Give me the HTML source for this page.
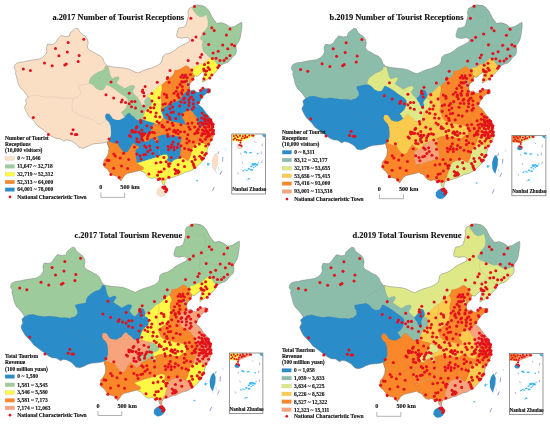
<!DOCTYPE html>
<html><head><meta charset="utf-8"><title>Tourism maps</title>
<style>
html,body{margin:0;padding:0;background:#fff}
body{width:550px;height:425px;overflow:hidden}
svg{display:block}
text{font-family:"Liberation Serif","Times New Roman",serif;font-weight:bold;fill:#111}
.t{font-size:8.25px}
.l{font-size:5.5px}
.n{font-size:5.1px}
.k{font-size:6.2px}
text{stroke:#111;stroke-width:.12px}
.pv{stroke:#8a8a86;stroke-opacity:.6;stroke-width:.22;stroke-linejoin:round}
</style></head><body>
<svg width="550" height="425" viewBox="0 0 550 425">
<rect width="550" height="425" fill="#fff"/>
<defs>
<clipPath id="cn"><path d="M14.5 65.5 L16.4 63.3 L20 62.2 L23.6 61.8 L27.3 60.9 L32.7 60 L39.1 59.1 L42.7 57.3 L45.5 54.5 L46.9 51.8 L46.4 47.3 L47.6 44 L52.7 44.5 L55.5 42.7 L58.5 38.2 L60.9 35.5 L65.5 36.7 L69.5 36 L70 33.1 L71.8 31.3 L74.2 29.5 L75.5 28.2 L78.2 28.7 L79.6 31.8 L82.2 34.2 L85.5 36.4 L87.3 39.1 L88.2 42.7 L87.3 47.3 L89.1 50 L92.7 51.8 L97.3 54.5 L100 55.5 L102.7 58.2 L104.5 62.7 L107.3 65.8 L112.7 66.9 L119.1 67.6 L125.5 68.2 L130 69.5 L134.5 71.8 L138.2 73.1 L142.7 70.9 L147.3 69.1 L152.7 67.6 L157.3 65.5 L160.9 63.3 L162.2 60 L162.7 56.4 L165.5 54.2 L170 53.1 L174.5 50.5 L178.2 47.3 L181.8 45.5 L185.5 43.6 L189.1 41.8 L190 39.1 L187.3 37.3 L181.8 38.2 L177.3 37.3 L176.5 35.5 L176.9 33.9 L177.8 30.3 L178.8 28 L182.4 27.5 L185.6 26.1 L186.6 22.9 L187.5 19.3 L188.4 15.6 L187.9 11.9 L189.3 8.3 L192.5 6.9 L194.4 5.5 L198 5 L203.5 6 L206.3 7.8 L209 11 L210.9 14.7 L212.7 18.3 L215 21.1 L216.4 23.3 L221.8 22.7 L226.4 24.5 L230 27.3 L234.5 26.4 L239.1 23.6 L241.8 22.2 L242 26.5 L241.2 32 L240.3 37.5 L239.4 40.5 L237.8 43 L236 45.5 L236.3 50 L236.3 52 L235.3 54.7 L232.5 57 L230.5 59.8 L228 62.3 L224.5 63.4 L221.5 64.8 L219.9 66.5 L218.1 69.2 L215.8 72 L213 74.7 L210.3 77 L207.5 79.3 L204.8 81.1 L202.5 82.3 L202.9 78.9 L203.7 75.6 L204 72.9 L202.9 71.5 L201.6 72.4 L199.3 74.7 L197 76.6 L194.7 75.6 L193.8 78.4 L192.4 81.1 L190.1 83.4 L189.2 85.7 L189.6 88.5 L189.2 91.2 L193.8 89.9 L196 91.7 L198.3 92.6 L201.1 90.3 L203.9 88.9 L207.5 88.5 L210.3 88.9 L210.6 92.3 L207 93 L203.6 95.8 L201.6 98.5 L199.8 101.7 L198.6 104.3 L199.5 105.6 L201.6 107 L203.9 109.8 L205.7 112.5 L208.5 115.7 L211.2 118.9 L212.5 121.8 L213.1 125.5 L214.4 127.5 L212 128.6 L213.2 130 L214.6 130.5 L214.4 133.8 L212.6 138.3 L210.8 142 L208.5 145.7 L207.1 149.4 L207.1 153 L205.3 156.7 L203.4 159.6 L200.7 162.8 L197.9 165.6 L195.6 167.9 L192.4 169.7 L188.8 171.6 L185 172.3 L182.7 173.5 L179 175.3 L175.4 176.3 L171.7 177.6 L168 178.6 L165.7 179.5 L164.8 181.8 L164.8 184.5 L163.4 185.2 L162.1 183.1 L161.6 180.4 L160.2 179.5 L157.5 179 L154.7 177.6 L152 178.6 L148.8 177.6 L146.8 175.6 L145.3 173.3 L143.3 171.9 L141.3 171.3 L140.3 170.3 L138.2 170.9 L134.5 171.8 L130.9 172.7 L127.3 173.6 L124.5 175.5 L122.7 178.2 L120.9 180.9 L119.1 179.1 L117.3 176.4 L113.6 175.5 L110.9 174.5 L109.1 171.8 L107.3 169.1 L104.5 167.3 L103.6 164.5 L103.9 160.3 L106.5 157.1 L108.4 153.3 L109 148.2 L107.7 144.4 L107.1 141.8 L103.9 142.8 L99.5 143.3 L94.4 143.7 L90.5 145 L86.7 146.9 L82.9 148.2 L79.1 147.5 L76.5 144.4 L74 142.5 L70.2 140.5 L66.4 139.9 L63.8 141.2 L60 138.6 L55.5 138.2 L51.8 136.4 L48.2 133.6 L44.5 130.9 L40.9 128.2 L37.3 125.5 L34.5 121.8 L31.8 119.1 L29.1 116.4 L27.3 113.6 L25.5 110 L24.5 107.3 L26.4 103.6 L25.5 100 L28.2 97.3 L26.4 94.5 L23.6 90.9 L20 87.3 L18.2 83.6 L17.3 80 L16.5 76.4 L15.5 73.6 L16 70.9 L14.2 68.2Z"/></clipPath>
<path id="pXJ" d="M5 20 L110 20 L110 70 L100 80 L100 92 L80 102 L20 102 L5 102Z"/>
<path id="pXZ" d="M20 99 L28.2 97.3 L31.8 95.5 L36.4 94.9 L41.8 96.4 L47.3 97.3 L52.7 96.7 L58.2 97.3 L63.6 98.2 L69.1 98.2 L73.6 98.8 L77 98 L82 99.5 L115 99.5 L115 150 L20 155Z"/>
<path id="pQH" d="M89.1 83.5 L85 84.2 L82 84.8 L78.9 85.5 L78.5 87 L79.5 89.3 L80.5 91 L80.8 94.4 L78.3 96.9 L77 98 L75.1 97.8 L72.5 100.7 L72 105 L72.5 110.5 L76.5 113.2 L80.4 115.7 L85.5 117.6 L90.5 118.9 L94.4 120.8 L96.9 123.4 L100.7 124 L103.9 122.1 L105.2 119.5 L106.4 119.7 L110 121.5 L114 123 L128 118 L130 100 L127 94 L120 89 L112 84 L107 82 L98 82 L92 80.5Z"/>
<path id="pNM" d="M100 0 L230 0 L230 50 L200 75 L180 90 L150 100 L141 100 L134 96.5 L128 93 L121 89.5 L115 85 L110 81 L108 69 L103 55Z"/>
<path id="pGS" d="M105 66.1 L108.2 66.4 L108.8 68.9 L109.5 72.1 L110.7 75.9 L112.6 78.5 L115.2 77.2 L118.4 76.5 L119.4 78.5 L117.7 81 L116.5 82.9 L119 84.8 L122.2 86.7 L124.7 88.6 L126.6 87.4 L129.8 85.7 L133 84.9 L134.9 86.4 L134 88.9 L132.4 91.1 L133.6 93.5 L136.1 95.9 L138.5 97.7 L141 99 L146.2 99 L147.7 96.9 L150 98 L153 100 L153 106 L150 108.5 L147.5 110.5 L146 113 L144.5 117 L143.5 119.5 L140 123 L126 121 L124.5 117.3 L122.4 114 L121 112.6 L123.8 110.3 L125.5 108.5 L127 105.5 L128 102 L127.5 99 L125 96.5 L121.5 94.2 L119 92.5 L116.5 90.5 L113.9 88.8 L110.7 86.8 L108.2 85.5 L106.3 84.8 L105 87.4 L103.1 89.9 L99.9 90.3 L96.1 88.6 L93.5 85.5 L90.4 83.5 L89.1 83.5 L89.3 80.4 L91 77.2 L94.2 74.6 L98 72.1 L101.8 70.8 L104.4 68.9Z"/>
<path id="pNX" d="M142.1 90.7 L144.5 89 L146.7 89.8 L148.1 93.5 L147.6 96.7 L145.4 99 L144.3 101.7 L145.2 104.5 L144.8 107.2 L143.5 107.4 L141.7 104.9 L140.3 101.7 L138.4 99 L137.5 97.6 L139.4 95.8 L141.2 93.5Z"/>
<path id="pSC" d="M108.7 141.7 L109.6 138.9 L111 135.3 L111 130.7 L110.6 126.1 L109.2 122.4 L106.4 119.7 L105 116.9 L106 113.7 L109.2 113.7 L111 116 L112.8 118.8 L116.5 120.1 L119.7 120.1 L122 118.8 L124.5 117.5 L125.7 115.6 L127.5 113.7 L129.4 112.8 L131.2 115.1 L133.9 116.9 L136.7 119.7 L139.4 120.6 L142.8 119.5 L160 118 L160 150 L125 156 L107 150 L107.1 141.8Z"/>
<path id="pYN" d="M107.1 141.8 L109 141 L110 141.8 L114.5 143.6 L117.3 142.7 L119.1 146.4 L121.8 150 L124.5 152.7 L127.6 151.8 L128.9 150 L130.9 146.2 L133.7 142.9 L136.4 145.5 L139.1 146.8 L138.7 148.6 L136.4 149.1 L135.6 150.5 L137.5 153 L140 160 L145 168 L143 185 L100 185 L104 146Z"/>
<path id="pSN" d="M161.1 84.2 L158.5 86.1 L156 88.6 L152.8 91.8 L149 94.4 L147.7 96.5 L150.5 98.3 L151.7 102 L151.2 105.8 L148.5 107.7 L146.2 109.6 L144.8 112.3 L143.4 116 L142.8 119.5 L146.9 121.1 L150.6 122.1 L154.3 123 L157 124.4 L159.3 122.5 L161.6 119.8 L163.4 117 L162.5 114.3 L161.1 111.5 L160.7 108.8 L161.6 105.1 L161.1 100.5 L160.7 95 L161.1 93.1 L162 89.3 L161.7 84.8Z"/>
<path id="pHL" d="M192.3 6.5 L192.5 9.2 L194.4 11.9 L197.1 15.1 L199.9 17 L203.5 16.5 L206.3 14.7 L207.2 17.4 L208.1 22 L207.7 26.6 L205.8 29.4 L203.5 31.7 L201.7 34.9 L200.3 37.6 L200.6 39.4 L203 40.8 L203.6 50 L245 50 L245 0 L192 0Z"/>
<path id="pJL" d="M203 40.8 L206.4 42.2 L209.1 43.3 L212.4 44.4 L216.2 46.1 L219.5 45.5 L222.2 47.1 L224.9 48.8 L227.6 50.4 L230.4 49.3 L233.1 48.2 L236.4 47.7 L240 49 L240 70 L210 70 L210.4 58 L208.3 56.6 L205.3 53.5 L203.2 51 L202.5 48.5 L202.2 45.5 L202.5 43Z"/>
<path id="pLN" d="M192.4 69.7 L192.8 66.9 L193.8 66.5 L195.6 66.5 L197.9 65.6 L200.2 64.2 L202.5 63.7 L204.3 62.3 L206.6 61 L208.4 59.1 L210.4 58 L213 59.1 L214.9 61 L216.2 63.3 L218.1 65.1 L219.9 66.5 L223 70 L205 86 L195 80 L192.8 73.3Z"/>
<path id="pSX" d="M161.7 84.8 L163.6 82.9 L166.8 80.4 L169.4 77.8 L171.9 75.9 L176 76 L176 106 L163 111 L160.9 109.5 L160.7 108.8 L161.6 105.1 L161.1 100.5 L160.7 95 L161.1 93.1 L162 89.3Z"/>
<path id="pHE" d="M171.9 75.9 L173.8 73.4 L174.5 70.2 L178.9 69.5 L182.7 67.6 L185.5 65.6 L187.8 66 L189.6 67.8 L191 69.2 L192.5 68.5 L192.4 69.7 L192.8 73.3 L194.7 75.6 L196 80 L192 92 L185 100 L175 104 L172.5 101.5 L172 99 L172.5 96 L173.5 92 L172.5 88 L173 84 L174.5 81 L173.5 78Z"/>
<path id="pBJ" d="M181.8 75.5 L183 74 L184.8 74.5 L185.3 76.5 L184 78 L182.3 77.5Z"/>
<path id="pTJ" d="M186 80.5 L187.5 79.5 L188.8 81 L188.8 84.5 L187.5 86.5 L186 85 L186.3 82.5Z"/>
<path id="pHA" d="M161.1 111.3 L160.9 109.5 L162.5 108.8 L165.3 106.9 L168.9 104.6 L172.6 103.3 L174.5 102 L178.3 100.7 L180.8 98.2 L187 101 L192 108 L190 127 L164 124 L163.4 117 L162.5 114.3Z"/>
<path id="pSD" d="M180.8 98.2 L182.7 95.6 L185.9 91.8 L189.3 89.5 L189 84 L216 84 L216 100 L198.6 104.3 L196 106.5 L193 108.3 L190 109 L187 108.6 L184.2 107.2 L182.6 104.2 L181.3 100.8Z"/>
<path id="pCQ" d="M153 125 L154.3 123 L157 124.4 L159.5 125.5 L161 127 L162.3 129.9 L159.8 131.8 L156.6 133.1 L155.8 135.5 L157 137 L158.4 138.8 L158.9 142 L156.6 143.3 L154.8 140.6 L152.9 137.8 L150.6 138.8 L148.3 141.1 L145.6 142 L143.3 140.6 L142.8 137.8 L144.7 135.1 L147.4 133.7 L149.7 131.9 L151.6 129.6 L152.5 126.8Z"/>
<path id="pGZ" d="M144.6 142.8 L146.5 142.3 L148.3 141.3 L150.6 139.5 L152.9 138.8 L154.8 141 L156.6 143.3 L157.4 144.5 L159.9 146.4 L159.3 150.2 L159.9 153.4 L160.3 155.7 L155.7 157.6 L151.1 158.9 L147.4 159.9 L143.8 161.2 L140.1 162.2 L137.2 163 L136.7 161.4 L135.9 157 L135.4 153.2 L135.7 150.5 L136.6 149.3 L138.8 148.8 L140.2 147.7 L142.7 145.2Z"/>
<path id="pHB" d="M163.4 117 L165.7 119.3 L169.9 121.1 L173.5 121.6 L177.2 122.5 L180.9 123.4 L185 124.4 L186.5 124.8 L191 126 L191 135 L182 139 L157 140 L157 137 L155.8 135.5 L156.6 133.1 L159.8 131.8 L162.3 129.9 L161 127 L159.5 125.5 L157 124.4 L159.3 122.5 L161.6 119.8Z"/>
<path id="pHN" d="M157 137 L158.5 136.3 L161.7 135 L164.8 134.4 L168.7 135.6 L172.5 135 L176.3 136.3 L180.1 136.9 L182 136.5 L185 140 L185 163 L160 163 L160.3 155.7 L159.9 153.4 L159.3 150.2 L159.9 146.4 L157.4 144.5 L156.6 143.3 L158.9 142 L158.4 138.8Z"/>
<path id="pGX" d="M140.5 172 L141.2 170.6 L143.4 169.6 L143.7 167.3 L141 165.8 L138.9 164.5 L137.2 163 L140.1 162.2 L143.8 161.2 L147.4 159.9 L151.1 158.9 L155.7 157.6 L160.3 155.7 L163.9 154.4 L167.2 154.8 L168.1 157.6 L166.9 159.9 L168.5 161.5 L170.4 161.8 L171.5 162.5 L175 165 L172 183 L140 183Z"/>
<path id="pAH" d="M186.9 111.1 L183.3 112.5 L182.3 115.3 L181.9 118 L184.2 120.8 L185.1 123.9 L186.5 124.8 L187.7 125.6 L188.9 129.5 L188.3 133.9 L188.3 137 L200 141 L205 128 L199 112 L190 110Z"/>
<path id="pJS" d="M189 109.6 L190 109 L193 108.3 L196 106.5 L198.6 104.3 L201 103 L220 120 L217 131 L202.3 131 L202.3 127.8 L199.8 126.9 L198.2 124.8 L197 122.6 L197.5 120 L197 117.1 L194.7 115.3 L193.3 112.5 L191 110.7Z"/>
<path id="pJX" d="M182 136.5 L183.9 135 L186.5 133.1 L188.3 133.9 L190.8 136.5 L194.7 137.7 L197.8 138.4 L198.5 142 L196.5 147 L193 160 L188.5 162 L184 160 L181.5 157.3 L180 155.5 L180.5 150 L181 148 L180 144 L181 140Z"/>
<path id="pGD" d="M165.7 179.5 L165.9 177.7 L167.8 174.5 L168.5 171.4 L169.8 168.2 L171 165 L171.5 162.5 L174 160 L177.7 158.7 L180 158.5 L181.5 157.3 L183.3 158 L185.5 159.5 L187.8 160.8 L188.5 160.3 L195 160 L201 172 L170 191 L161 191 L161 180.5 L162.5 180Z"/>
<path id="pZJ" d="M197.8 138.4 L199.1 135.2 L201 132 L202.3 128.2 L201.3 126.5 L206.5 125 L210.5 124.3 L219 124 L219 149 L208 149 L196.1 147 L196.1 144.3 L196.5 141.5Z"/>
<path id="pSH" d="M210.8 121.8 L216 121.5 L216 127 L212.5 126.6 L210.6 124.5Z"/>
<path id="pFJ" d="M196.1 144.3 L199.8 142.5 L203.4 143.4 L206.7 144.8 L208 146.1 L213 147 L213 171 L197.5 173 L196.5 168.2 L194.6 164.6 L192.7 162.3 L190.5 160.5 L188.5 160.3 L189.7 158.3 L191.1 154.6 L192 150.3 L192.9 147.5Z"/>
<path id="pHI" d="M157 190 L159 187.6 L161.5 186.5 L164.5 186.4 L167 187.5 L168.2 189.5 L167.6 192 L165.8 194.3 L163.5 196 L160.8 196.6 L158.3 195.5 L156.6 193.2Z"/>
<path id="pTW" d="M216.3 153.2 L218.1 157.3 L217.9 161 L217.7 163.8 L216.3 168.3 L215.4 171.6 L214 169.7 L212.6 166.5 L212.2 161 L213.5 156.4 L215 154Z"/>
<path id="ol" d="M14.5 65.5 L16.4 63.3 L20 62.2 L23.6 61.8 L27.3 60.9 L32.7 60 L39.1 59.1 L42.7 57.3 L45.5 54.5 L46.9 51.8 L46.4 47.3 L47.6 44 L52.7 44.5 L55.5 42.7 L58.5 38.2 L60.9 35.5 L65.5 36.7 L69.5 36 L70 33.1 L71.8 31.3 L74.2 29.5 L75.5 28.2 L78.2 28.7 L79.6 31.8 L82.2 34.2 L85.5 36.4 L87.3 39.1 L88.2 42.7 L87.3 47.3 L89.1 50 L92.7 51.8 L97.3 54.5 L100 55.5 L102.7 58.2 L104.5 62.7 L107.3 65.8 L112.7 66.9 L119.1 67.6 L125.5 68.2 L130 69.5 L134.5 71.8 L138.2 73.1 L142.7 70.9 L147.3 69.1 L152.7 67.6 L157.3 65.5 L160.9 63.3 L162.2 60 L162.7 56.4 L165.5 54.2 L170 53.1 L174.5 50.5 L178.2 47.3 L181.8 45.5 L185.5 43.6 L189.1 41.8 L190 39.1 L187.3 37.3 L181.8 38.2 L177.3 37.3 L176.5 35.5 L176.9 33.9 L177.8 30.3 L178.8 28 L182.4 27.5 L185.6 26.1 L186.6 22.9 L187.5 19.3 L188.4 15.6 L187.9 11.9 L189.3 8.3 L192.5 6.9 L194.4 5.5 L198 5 L203.5 6 L206.3 7.8 L209 11 L210.9 14.7 L212.7 18.3 L215 21.1 L216.4 23.3 L221.8 22.7 L226.4 24.5 L230 27.3 L234.5 26.4 L239.1 23.6 L241.8 22.2 L242 26.5 L241.2 32 L240.3 37.5 L239.4 40.5 L237.8 43 L236 45.5 L236.3 50 L236.3 52 L235.3 54.7 L232.5 57 L230.5 59.8 L228 62.3 L224.5 63.4 L221.5 64.8 L219.9 66.5 L218.1 69.2 L215.8 72 L213 74.7 L210.3 77 L207.5 79.3 L204.8 81.1 L202.5 82.3 L202.9 78.9 L203.7 75.6 L204 72.9 L202.9 71.5 L201.6 72.4 L199.3 74.7 L197 76.6 L194.7 75.6 L193.8 78.4 L192.4 81.1 L190.1 83.4 L189.2 85.7 L189.6 88.5 L189.2 91.2 L193.8 89.9 L196 91.7 L198.3 92.6 L201.1 90.3 L203.9 88.9 L207.5 88.5 L210.3 88.9 L210.6 92.3 L207 93 L203.6 95.8 L201.6 98.5 L199.8 101.7 L198.6 104.3 L199.5 105.6 L201.6 107 L203.9 109.8 L205.7 112.5 L208.5 115.7 L211.2 118.9 L212.5 121.8 L213.1 125.5 L214.4 127.5 L212 128.6 L213.2 130 L214.6 130.5 L214.4 133.8 L212.6 138.3 L210.8 142 L208.5 145.7 L207.1 149.4 L207.1 153 L205.3 156.7 L203.4 159.6 L200.7 162.8 L197.9 165.6 L195.6 167.9 L192.4 169.7 L188.8 171.6 L185 172.3 L182.7 173.5 L179 175.3 L175.4 176.3 L171.7 177.6 L168 178.6 L165.7 179.5 L164.8 181.8 L164.8 184.5 L163.4 185.2 L162.1 183.1 L161.6 180.4 L160.2 179.5 L157.5 179 L154.7 177.6 L152 178.6 L148.8 177.6 L146.8 175.6 L145.3 173.3 L143.3 171.9 L141.3 171.3 L140.3 170.3 L138.2 170.9 L134.5 171.8 L130.9 172.7 L127.3 173.6 L124.5 175.5 L122.7 178.2 L120.9 180.9 L119.1 179.1 L117.3 176.4 L113.6 175.5 L110.9 174.5 L109.1 171.8 L107.3 169.1 L104.5 167.3 L103.6 164.5 L103.9 160.3 L106.5 157.1 L108.4 153.3 L109 148.2 L107.7 144.4 L107.1 141.8 L103.9 142.8 L99.5 143.3 L94.4 143.7 L90.5 145 L86.7 146.9 L82.9 148.2 L79.1 147.5 L76.5 144.4 L74 142.5 L70.2 140.5 L66.4 139.9 L63.8 141.2 L60 138.6 L55.5 138.2 L51.8 136.4 L48.2 133.6 L44.5 130.9 L40.9 128.2 L37.3 125.5 L34.5 121.8 L31.8 119.1 L29.1 116.4 L27.3 113.6 L25.5 110 L24.5 107.3 L26.4 103.6 L25.5 100 L28.2 97.3 L26.4 94.5 L23.6 90.9 L20 87.3 L18.2 83.6 L17.3 80 L16.5 76.4 L15.5 73.6 L16 70.9 L14.2 68.2Z" fill="none" stroke="#777" stroke-width=".45" stroke-linejoin="round"/>
<g id="dots" fill="#e3111b">
<circle cx="83.8" cy="39.3" r="1.5"/><circle cx="68.2" cy="42.5" r="1.5"/><circle cx="55.5" cy="48.4" r="1.5"/><circle cx="67.3" cy="52.0" r="1.5"/><circle cx="79.1" cy="55.5" r="1.5"/><circle cx="58.9" cy="55.8" r="1.5"/><circle cx="78.2" cy="61.5" r="1.5"/><circle cx="44.5" cy="63.1" r="1.5"/>
<circle cx="52.2" cy="65.8" r="1.5"/><circle cx="64.8" cy="65.0" r="1.5"/><circle cx="66.3" cy="64.0" r="1.5"/><circle cx="23.3" cy="68.9" r="1.5"/><circle cx="30.4" cy="70.5" r="1.5"/><circle cx="33.3" cy="117.5" r="1.5"/><circle cx="48.4" cy="134.5" r="1.5"/><circle cx="73.1" cy="129.7" r="1.5"/>
<circle cx="71.5" cy="133.8" r="1.5"/><circle cx="75.3" cy="134.6" r="1.5"/><circle cx="76.8" cy="134.6" r="1.5"/><circle cx="111.0" cy="81.9" r="1.5"/><circle cx="106.0" cy="94.7" r="1.5"/><circle cx="113.7" cy="97.9" r="1.5"/><circle cx="122.2" cy="100.1" r="1.5"/><circle cx="121.3" cy="102.0" r="1.5"/>
<circle cx="125.6" cy="102.6" r="1.5"/><circle cx="129.2" cy="93.3" r="1.5"/><circle cx="129.2" cy="103.7" r="1.5"/><circle cx="131.7" cy="101.4" r="1.5"/><circle cx="134.9" cy="101.4" r="1.5"/><circle cx="131.5" cy="106.8" r="1.5"/><circle cx="135.5" cy="108.1" r="1.5"/><circle cx="194.5" cy="6.4" r="1.5"/>
<circle cx="190.9" cy="18.2" r="1.5"/><circle cx="211.8" cy="27.8" r="1.5"/><circle cx="214.2" cy="30.5" r="1.5"/><circle cx="230.0" cy="29.1" r="1.5"/><circle cx="226.4" cy="35.1" r="1.5"/><circle cx="204.0" cy="33.8" r="1.5"/><circle cx="196.0" cy="37.1" r="1.5"/><circle cx="192.4" cy="40.2" r="1.5"/>
<circle cx="208.7" cy="44.5" r="1.5"/><circle cx="222.7" cy="44.9" r="1.5"/><circle cx="231.8" cy="44.5" r="1.5"/><circle cx="234.5" cy="45.8" r="1.5"/><circle cx="227.8" cy="48.7" r="1.5"/><circle cx="218.2" cy="51.3" r="1.5"/><circle cx="213.1" cy="53.1" r="1.5"/><circle cx="201.8" cy="54.5" r="1.5"/>
<circle cx="200.4" cy="57.3" r="1.5"/><circle cx="230.0" cy="55.5" r="1.5"/><circle cx="226.4" cy="58.2" r="1.5"/><circle cx="224.0" cy="60.4" r="1.5"/><circle cx="220.0" cy="60.4" r="1.5"/><circle cx="216.0" cy="58.2" r="1.5"/><circle cx="212.4" cy="58.5" r="1.5"/><circle cx="188.2" cy="60.5" r="1.5"/>
<circle cx="197.3" cy="63.3" r="1.5"/><circle cx="204.5" cy="64.5" r="1.5"/><circle cx="208.2" cy="62.7" r="1.5"/><circle cx="219.1" cy="65.5" r="1.5"/><circle cx="217.8" cy="67.6" r="1.5"/><circle cx="203.6" cy="69.1" r="1.5"/><circle cx="208.2" cy="67.6" r="1.5"/><circle cx="209.5" cy="69.5" r="1.5"/>
<circle cx="205.5" cy="70.9" r="1.5"/><circle cx="170.0" cy="70.5" r="1.5"/><circle cx="191.8" cy="70.0" r="1.5"/><circle cx="205.5" cy="74.5" r="1.5"/><circle cx="211.8" cy="74.9" r="1.5"/><circle cx="185.5" cy="74.9" r="1.5"/><circle cx="190.5" cy="74.5" r="1.5"/><circle cx="157.3" cy="82.2" r="1.5"/>
<circle cx="145.1" cy="86.4" r="1.5"/><circle cx="142.7" cy="90.0" r="1.5"/><circle cx="143.6" cy="92.7" r="1.5"/><circle cx="151.8" cy="93.6" r="1.5"/><circle cx="167.3" cy="78.5" r="1.5"/><circle cx="169.1" cy="82.2" r="1.5"/><circle cx="109.0" cy="139.0" r="1.5"/><circle cx="116.9" cy="142.1" r="1.5"/>
<circle cx="123.6" cy="153.3" r="1.5"/><circle cx="113.8" cy="153.9" r="1.5"/><circle cx="115.3" cy="156.1" r="1.5"/><circle cx="120.1" cy="158.1" r="1.5"/><circle cx="107.2" cy="160.2" r="1.5"/><circle cx="108.9" cy="160.6" r="1.5"/><circle cx="129.4" cy="135.5" r="1.5"/><circle cx="128.7" cy="159.5" r="1.5"/>
<circle cx="104.5" cy="164.5" r="1.5"/><circle cx="113.6" cy="168.2" r="1.5"/><circle cx="121.5" cy="166.0" r="1.5"/><circle cx="127.6" cy="168.5" r="1.5"/><circle cx="110.9" cy="174.5" r="1.5"/><circle cx="119.1" cy="177.6" r="1.5"/><circle cx="134.5" cy="147.0" r="1.5"/><circle cx="167.6" cy="77.4" r="1.5"/>
<circle cx="142.5" cy="91.7" r="1.5"/><circle cx="144.2" cy="96.0" r="1.5"/><circle cx="159.0" cy="97.8" r="1.5"/><circle cx="164.2" cy="93.9" r="1.5"/><circle cx="166.5" cy="95.1" r="1.5"/><circle cx="166.8" cy="97.2" r="1.5"/><circle cx="174.0" cy="93.2" r="1.5"/><circle cx="176.3" cy="91.2" r="1.5"/>
<circle cx="177.4" cy="87.5" r="1.5"/><circle cx="178.1" cy="94.1" r="1.5"/><circle cx="180.0" cy="84.6" r="1.5"/><circle cx="182.2" cy="86.6" r="1.5"/><circle cx="182.7" cy="90.0" r="1.5"/><circle cx="182.0" cy="94.1" r="1.5"/><circle cx="178.9" cy="97.6" r="1.5"/><circle cx="182.7" cy="82.0" r="1.5"/>
<circle cx="184.5" cy="81.8" r="1.5"/><circle cx="180.9" cy="77.0" r="1.5"/><circle cx="183.6" cy="77.4" r="1.5"/><circle cx="184.4" cy="98.1" r="1.5"/><circle cx="204.3" cy="70.6" r="1.5"/><circle cx="206.6" cy="71.1" r="1.5"/><circle cx="204.0" cy="79.0" r="1.5"/><circle cx="209.8" cy="78.1" r="1.5"/>
<circle cx="186.4" cy="81.1" r="1.5"/><circle cx="188.1" cy="84.4" r="1.5"/><circle cx="192.8" cy="79.3" r="1.5"/><circle cx="188.7" cy="90.3" r="1.5"/><circle cx="193.8" cy="92.2" r="1.5"/><circle cx="192.4" cy="92.8" r="1.5"/><circle cx="200.6" cy="90.3" r="1.5"/><circle cx="202.9" cy="88.2" r="1.5"/>
<circle cx="208.9" cy="89.9" r="1.5"/><circle cx="208.4" cy="91.7" r="1.5"/><circle cx="181.4" cy="92.6" r="1.5"/><circle cx="187.8" cy="93.1" r="1.5"/><circle cx="187.8" cy="94.2" r="1.5"/><circle cx="201.0" cy="95.6" r="1.5"/><circle cx="201.6" cy="96.9" r="1.5"/><circle cx="191.5" cy="96.9" r="1.5"/>
<circle cx="190.1" cy="97.8" r="1.5"/><circle cx="188.8" cy="99.7" r="1.5"/><circle cx="193.3" cy="99.7" r="1.5"/><circle cx="181.0" cy="102.0" r="1.5"/><circle cx="184.6" cy="102.4" r="1.5"/><circle cx="189.2" cy="102.4" r="1.5"/><circle cx="198.4" cy="102.4" r="1.5"/><circle cx="193.3" cy="103.8" r="1.5"/>
<circle cx="188.8" cy="105.6" r="1.5"/><circle cx="179.6" cy="106.1" r="1.5"/><circle cx="193.8" cy="107.0" r="1.5"/><circle cx="192.4" cy="108.9" r="1.5"/><circle cx="187.4" cy="109.8" r="1.5"/><circle cx="179.1" cy="113.9" r="1.5"/><circle cx="182.8" cy="114.8" r="1.5"/><circle cx="175.9" cy="118.5" r="1.5"/>
<circle cx="202.1" cy="113.0" r="1.5"/><circle cx="204.4" cy="115.3" r="1.5"/><circle cx="206.7" cy="116.2" r="1.5"/><circle cx="201.6" cy="118.0" r="1.5"/><circle cx="204.4" cy="118.5" r="1.5"/><circle cx="207.6" cy="119.4" r="1.5"/><circle cx="210.8" cy="119.9" r="1.5"/><circle cx="197.5" cy="119.4" r="1.5"/>
<circle cx="205.3" cy="121.2" r="1.5"/><circle cx="208.5" cy="121.7" r="1.5"/><circle cx="211.2" cy="122.2" r="1.5"/><circle cx="200.7" cy="122.6" r="1.5"/><circle cx="203.4" cy="123.1" r="1.5"/><circle cx="198.4" cy="123.5" r="1.5"/><circle cx="187.8" cy="123.5" r="1.5"/><circle cx="192.0" cy="123.1" r="1.5"/>
<circle cx="152.0" cy="101.0" r="1.5"/><circle cx="143.7" cy="106.0" r="1.5"/><circle cx="154.7" cy="104.6" r="1.5"/><circle cx="150.6" cy="107.8" r="1.5"/><circle cx="153.8" cy="107.8" r="1.5"/><circle cx="147.8" cy="110.6" r="1.5"/><circle cx="150.6" cy="112.0" r="1.5"/><circle cx="141.9" cy="111.5" r="1.5"/>
<circle cx="156.1" cy="112.9" r="1.5"/><circle cx="155.6" cy="116.6" r="1.5"/><circle cx="159.8" cy="117.0" r="1.5"/><circle cx="144.6" cy="117.9" r="1.5"/><circle cx="140.5" cy="120.2" r="1.5"/><circle cx="141.0" cy="122.5" r="1.5"/><circle cx="157.0" cy="121.6" r="1.5"/><circle cx="159.0" cy="123.0" r="1.5"/>
<circle cx="136.8" cy="126.7" r="1.5"/><circle cx="146.9" cy="125.7" r="1.5"/><circle cx="151.5" cy="127.6" r="1.5"/><circle cx="141.9" cy="129.9" r="1.5"/><circle cx="162.1" cy="125.3" r="1.5"/><circle cx="163.9" cy="127.1" r="1.5"/><circle cx="135.9" cy="131.7" r="1.5"/><circle cx="165.3" cy="103.7" r="1.5"/>
<circle cx="163.0" cy="104.6" r="1.5"/><circle cx="171.2" cy="102.3" r="1.5"/><circle cx="169.9" cy="104.2" r="1.5"/><circle cx="174.4" cy="100.5" r="1.5"/><circle cx="172.6" cy="106.9" r="1.5"/><circle cx="169.9" cy="108.8" r="1.5"/><circle cx="171.2" cy="112.4" r="1.5"/><circle cx="173.5" cy="112.0" r="1.5"/>
<circle cx="163.0" cy="110.1" r="1.5"/><circle cx="167.1" cy="114.7" r="1.5"/><circle cx="169.4" cy="117.0" r="1.5"/><circle cx="169.9" cy="118.9" r="1.5"/><circle cx="172.2" cy="123.0" r="1.5"/><circle cx="173.1" cy="125.3" r="1.5"/><circle cx="167.6" cy="122.1" r="1.5"/><circle cx="180.9" cy="124.8" r="1.5"/>
<circle cx="166.7" cy="129.9" r="1.5"/><circle cx="169.4" cy="128.9" r="1.5"/><circle cx="174.4" cy="130.3" r="1.5"/><circle cx="177.7" cy="130.3" r="1.5"/><circle cx="180.4" cy="131.7" r="1.5"/><circle cx="152.4" cy="132.2" r="1.5"/><circle cx="149.7" cy="132.6" r="1.5"/><circle cx="139.1" cy="132.2" r="1.5"/>
<circle cx="142.3" cy="133.5" r="1.5"/><circle cx="184.5" cy="131.7" r="1.5"/><circle cx="183.6" cy="99.1" r="1.5"/><circle cx="177.7" cy="95.5" r="1.5"/><circle cx="188.8" cy="126.9" r="1.5"/><circle cx="190.1" cy="129.2" r="1.5"/><circle cx="194.7" cy="126.9" r="1.5"/><circle cx="199.8" cy="126.4" r="1.5"/>
<circle cx="202.5" cy="124.6" r="1.5"/><circle cx="204.4" cy="126.9" r="1.5"/><circle cx="210.3" cy="123.2" r="1.5"/><circle cx="211.7" cy="124.1" r="1.5"/><circle cx="208.9" cy="125.5" r="1.5"/><circle cx="207.1" cy="124.1" r="1.5"/><circle cx="205.3" cy="123.7" r="1.5"/><circle cx="175.5" cy="131.5" r="1.5"/>
<circle cx="178.2" cy="133.8" r="1.5"/><circle cx="187.8" cy="134.7" r="1.5"/><circle cx="194.7" cy="133.8" r="1.5"/><circle cx="197.0" cy="131.0" r="1.5"/><circle cx="196.6" cy="132.8" r="1.5"/><circle cx="198.4" cy="129.2" r="1.5"/><circle cx="202.5" cy="130.1" r="1.5"/><circle cx="204.4" cy="131.0" r="1.5"/>
<circle cx="202.1" cy="133.8" r="1.5"/><circle cx="201.6" cy="135.6" r="1.5"/><circle cx="205.3" cy="133.8" r="1.5"/><circle cx="207.1" cy="131.9" r="1.5"/><circle cx="208.5" cy="133.8" r="1.5"/><circle cx="209.9" cy="130.1" r="1.5"/><circle cx="211.7" cy="129.2" r="1.5"/><circle cx="212.6" cy="131.9" r="1.5"/>
<circle cx="213.5" cy="133.8" r="1.5"/><circle cx="209.4" cy="136.1" r="1.5"/><circle cx="206.7" cy="137.0" r="1.5"/><circle cx="186.9" cy="138.8" r="1.5"/><circle cx="189.2" cy="141.1" r="1.5"/><circle cx="186.9" cy="142.9" r="1.5"/><circle cx="193.3" cy="142.0" r="1.5"/><circle cx="199.3" cy="143.9" r="1.5"/>
<circle cx="200.2" cy="139.7" r="1.5"/><circle cx="202.1" cy="141.6" r="1.5"/><circle cx="205.3" cy="139.3" r="1.5"/><circle cx="211.2" cy="139.7" r="1.5"/><circle cx="208.5" cy="144.3" r="1.5"/><circle cx="205.7" cy="146.1" r="1.5"/><circle cx="178.2" cy="143.9" r="1.5"/><circle cx="181.0" cy="145.7" r="1.5"/>
<circle cx="177.3" cy="147.5" r="1.5"/><circle cx="184.6" cy="148.4" r="1.5"/><circle cx="188.8" cy="149.4" r="1.5"/><circle cx="191.1" cy="150.3" r="1.5"/><circle cx="195.2" cy="146.6" r="1.5"/><circle cx="202.1" cy="152.6" r="1.5"/><circle cx="206.2" cy="153.5" r="1.5"/><circle cx="204.8" cy="154.9" r="1.5"/>
<circle cx="199.8" cy="156.2" r="1.5"/><circle cx="194.3" cy="156.7" r="1.5"/><circle cx="201.6" cy="158.1" r="1.5"/><circle cx="180.0" cy="157.2" r="1.5"/><circle cx="131.8" cy="130.5" r="1.5"/><circle cx="134.6" cy="131.9" r="1.5"/><circle cx="141.0" cy="134.2" r="1.5"/><circle cx="144.7" cy="133.7" r="1.5"/>
<circle cx="130.5" cy="136.5" r="1.5"/><circle cx="136.9" cy="138.8" r="1.5"/><circle cx="139.2" cy="142.0" r="1.5"/><circle cx="136.9" cy="141.5" r="1.5"/><circle cx="141.9" cy="139.2" r="1.5"/><circle cx="148.8" cy="134.2" r="1.5"/><circle cx="147.4" cy="138.8" r="1.5"/><circle cx="154.8" cy="138.3" r="1.5"/>
<circle cx="157.1" cy="141.5" r="1.5"/><circle cx="154.3" cy="132.8" r="1.5"/><circle cx="144.7" cy="146.1" r="1.5"/><circle cx="146.1" cy="147.5" r="1.5"/><circle cx="149.7" cy="146.1" r="1.5"/><circle cx="150.2" cy="149.8" r="1.5"/><circle cx="147.9" cy="151.6" r="1.5"/><circle cx="152.9" cy="153.4" r="1.5"/>
<circle cx="157.5" cy="147.5" r="1.5"/><circle cx="136.9" cy="153.9" r="1.5"/><circle cx="140.1" cy="155.7" r="1.5"/><circle cx="143.8" cy="154.8" r="1.5"/><circle cx="145.6" cy="154.4" r="1.5"/><circle cx="141.0" cy="158.9" r="1.5"/><circle cx="157.5" cy="156.2" r="1.5"/><circle cx="163.9" cy="157.6" r="1.5"/>
<circle cx="156.1" cy="163.1" r="1.5"/><circle cx="160.7" cy="162.2" r="1.5"/><circle cx="166.2" cy="161.7" r="1.5"/><circle cx="169.9" cy="163.5" r="1.5"/><circle cx="171.3" cy="157.6" r="1.5"/><circle cx="170.8" cy="147.5" r="1.5"/><circle cx="168.1" cy="146.6" r="1.5"/><circle cx="168.5" cy="149.8" r="1.5"/>
<circle cx="171.7" cy="144.7" r="1.5"/><circle cx="174.0" cy="147.0" r="1.5"/><circle cx="174.0" cy="149.8" r="1.5"/><circle cx="173.1" cy="142.0" r="1.5"/><circle cx="162.1" cy="126.8" r="1.5"/><circle cx="173.6" cy="131.4" r="1.5"/><circle cx="175.9" cy="132.8" r="1.5"/><circle cx="167.6" cy="134.2" r="1.5"/>
<circle cx="168.1" cy="136.5" r="1.5"/><circle cx="173.1" cy="136.0" r="1.5"/><circle cx="179.5" cy="137.8" r="1.5"/><circle cx="183.2" cy="160.7" r="1.5"/><circle cx="168.5" cy="163.9" r="1.5"/><circle cx="168.9" cy="166.2" r="1.5"/><circle cx="178.1" cy="164.8" r="1.5"/><circle cx="184.5" cy="166.6" r="1.5"/>
<circle cx="164.2" cy="168.9" r="1.5"/><circle cx="174.9" cy="169.4" r="1.5"/><circle cx="176.3" cy="170.8" r="1.5"/><circle cx="178.1" cy="170.8" r="1.5"/><circle cx="175.4" cy="173.5" r="1.5"/><circle cx="177.7" cy="173.1" r="1.5"/><circle cx="179.0" cy="172.1" r="1.5"/><circle cx="158.9" cy="172.1" r="1.5"/>
<circle cx="161.1" cy="171.7" r="1.5"/><circle cx="148.9" cy="174.0" r="1.5"/><circle cx="157.5" cy="175.3" r="1.5"/><circle cx="168.9" cy="177.2" r="1.5"/><circle cx="158.4" cy="179.5" r="1.5"/><circle cx="159.8" cy="178.8" r="1.5"/><circle cx="163.0" cy="179.0" r="1.5"/><circle cx="163.0" cy="187.3" r="1.5"/>
<circle cx="164.8" cy="186.8" r="1.5"/><circle cx="166.2" cy="188.7" r="1.5"/><circle cx="166.7" cy="190.0" r="1.5"/><circle cx="165.7" cy="191.4" r="1.5"/><circle cx="164.2" cy="188.2" r="1.5"/><circle cx="203.4" cy="158.3" r="1.5"/><circle cx="202.1" cy="159.2" r="1.5"/><circle cx="195.2" cy="159.6" r="1.5"/>
<circle cx="192.0" cy="161.5" r="1.5"/><circle cx="193.3" cy="163.8" r="1.5"/><circle cx="193.8" cy="165.6" r="1.5"/><circle cx="194.7" cy="167.4" r="1.5"/><circle cx="136.1" cy="127.9" r="1.5"/><circle cx="133.5" cy="130.9" r="1.5"/><circle cx="132.1" cy="132.3" r="1.5"/><circle cx="143.1" cy="135.3" r="1.5"/>
<circle cx="141.7" cy="137.1" r="1.5"/><circle cx="142.7" cy="140.3" r="1.5"/><circle cx="147.7" cy="136.2" r="1.5"/><circle cx="204.6" cy="119.6" r="1.5"/><circle cx="209.3" cy="119.2" r="1.5"/><circle cx="205.7" cy="127.6" r="1.5"/><circle cx="208.6" cy="126.9" r="1.5"/><circle cx="213.4" cy="130.2" r="1.5"/>
<circle cx="206.4" cy="130.2" r="1.5"/><circle cx="208.2" cy="132.0" r="1.5"/><circle cx="198.0" cy="132.7" r="1.5"/><circle cx="203.5" cy="133.5" r="1.5"/><circle cx="211.2" cy="134.2" r="1.5"/><circle cx="208.2" cy="135.7" r="1.5"/><circle cx="212.6" cy="125.8" r="1.5"/><circle cx="213.1" cy="124.3" r="1.5"/>
<circle cx="212.2" cy="127.2" r="1.5"/><circle cx="185.3" cy="76.5" r="1.5"/><circle cx="187.1" cy="77.7" r="1.5"/><circle cx="182.5" cy="75.1" r="1.5"/><circle cx="181.6" cy="81.7" r="1.5"/>
</g>
<g id="isl"><line x1="222.9" y1="157.2" x2="222.5" y2="161.2" stroke="#8d93d6" stroke-width=".9" stroke-linecap="round"/><line x1="221.6" y1="171.0" x2="220.2" y2="174.3" stroke="#8d93d6" stroke-width=".9" stroke-linecap="round"/><line x1="214.0" y1="187.4" x2="212.6" y2="190.8" stroke="#8d93d6" stroke-width=".9" stroke-linecap="round"/><line x1="218.6" y1="151.8" x2="218.0" y2="153.6" stroke="#8d93d6" stroke-width=".9" stroke-linecap="round"/><ellipse cx="208.0" cy="164.2" rx="1.00" ry="1.50" fill="#3fbaf0"/><ellipse cx="209.6" cy="163.6" rx="0.50" ry="0.60" fill="#3fbaf0"/><ellipse cx="225.3" cy="148.8" rx="0.45" ry="0.45" fill="#3fbaf0"/><ellipse cx="226.0" cy="150.0" rx="0.40" ry="0.40" fill="#3fbaf0"/><ellipse cx="197.0" cy="180.7" rx="1.00" ry="0.75" fill="#3fbaf0"/><ellipse cx="218.4" cy="168.0" rx="0.45" ry="0.45" fill="#3fbaf0"/><ellipse cx="219.0" cy="169.5" rx="0.40" ry="0.40" fill="#3fbaf0"/><ellipse cx="207.3" cy="152.5" rx="0.40" ry="0.40" fill="#3fbaf0"/><ellipse cx="216.2" cy="172.8" rx="0.40" ry="0.40" fill="#3fbaf0"/></g>
<g id="insc"><ellipse cx="13.4" cy="17.9" rx="1.49" ry="0.94" fill="#3fbaf0"/><ellipse cx="14.6" cy="18.8" rx="0.81" ry="0.68" fill="#3fbaf0"/><ellipse cx="18.8" cy="18.8" rx="1.62" ry="0.81" fill="#3fbaf0"/><ellipse cx="25.9" cy="19.7" rx="0.94" ry="0.68" fill="#3fbaf0"/><ellipse cx="21.5" cy="30.4" rx="1.76" ry="1.35" fill="#3fbaf0"/><ellipse cx="23.4" cy="29.6" rx="1.08" ry="0.81" fill="#3fbaf0"/><ellipse cx="25.0" cy="30.6" rx="1.49" ry="1.22" fill="#3fbaf0"/><ellipse cx="19.5" cy="32.4" rx="1.22" ry="0.81" fill="#3fbaf0"/><ellipse cx="17.0" cy="34.9" rx="1.35" ry="0.81" fill="#3fbaf0"/><ellipse cx="19.7" cy="35.8" rx="1.49" ry="0.94" fill="#3fbaf0"/><ellipse cx="15.0" cy="36.6" rx="1.08" ry="0.68" fill="#3fbaf0"/><ellipse cx="11.6" cy="36.9" rx="1.08" ry="0.68" fill="#3fbaf0"/><ellipse cx="13.4" cy="35.8" rx="0.81" ry="0.54" fill="#3fbaf0"/><ellipse cx="17.0" cy="44.7" rx="1.35" ry="0.81" fill="#3fbaf0"/><ellipse cx="21.8" cy="33.6" rx="0.94" ry="0.68" fill="#3fbaf0"/><ellipse cx="23.5" cy="32.3" rx="0.81" ry="0.68" fill="#3fbaf0"/><ellipse cx="26.8" cy="28.6" rx="0.68" ry="0.68" fill="#3fbaf0"/><line x1="30.4" y1="9.8" x2="30.2" y2="11.8" stroke="#8d93d6" stroke-width=".7" stroke-linecap="round"/><line x1="29.6" y1="17.8" x2="29.3" y2="19.8" stroke="#8d93d6" stroke-width=".7" stroke-linecap="round"/><line x1="30.3" y1="26.8" x2="30.0" y2="28.6" stroke="#8d93d6" stroke-width=".7" stroke-linecap="round"/><line x1="23.0" y1="7.6" x2="23.8" y2="8.4" stroke="#8d93d6" stroke-width=".7" stroke-linecap="round"/><line x1="8.8" y1="19.2" x2="9.2" y2="20.3" stroke="#8d93d6" stroke-width=".7" stroke-linecap="round"/><line x1="10.5" y1="28.0" x2="11.0" y2="29.2" stroke="#8d93d6" stroke-width=".7" stroke-linecap="round"/><line x1="6.1" y1="38.8" x2="6.6" y2="40.0" stroke="#8d93d6" stroke-width=".7" stroke-linecap="round"/><line x1="14.8" y1="45.2" x2="15.6" y2="46.0" stroke="#8d93d6" stroke-width=".7" stroke-linecap="round"/><path d="M29.8 .6 L33.2 .6 L33.2 3.4 L31.2 2.2Z" fill="#3aa0dc"/></g>
</defs>
<g transform="translate(83.8,39.3) scale(1.0) translate(-83.8,-39.3)">
<g clip-path="url(#cn)" class="pv">
<use href="#pXJ" fill="#fbdfc5"/><use href="#pXZ" fill="#fbdfc5"/><use href="#pQH" fill="#fbdfc5"/><use href="#pNM" fill="#fbdfc5"/><use href="#pGS" fill="#9ecb9c"/><use href="#pNX" fill="#fbdfc5"/><use href="#pSC" fill="#2a8cc9"/><use href="#pYN" fill="#fa8729"/><use href="#pSN" fill="#fdf845"/><use href="#pHL" fill="#9ecb9c"/><use href="#pJL" fill="#9ecb9c"/><use href="#pLN" fill="#fdf845"/><use href="#pSX" fill="#fa8729"/><use href="#pHE" fill="#fa8729"/><use href="#pBJ" fill="#9ecb9c"/><use href="#pTJ" fill="#9ecb9c"/><use href="#pHA" fill="#2a8cc9"/><use href="#pSD" fill="#2a8cc9"/><use href="#pCQ" fill="#fa8729"/><use href="#pGZ" fill="#2a8cc9"/><use href="#pHB" fill="#fa8729"/><use href="#pHN" fill="#2a8cc9"/><use href="#pGX" fill="#fdf845"/><use href="#pAH" fill="#fa8729"/><use href="#pJS" fill="#2a8cc9"/><use href="#pJX" fill="#fa8729"/><use href="#pGD" fill="#fdf845"/><use href="#pZJ" fill="#fa8729"/><use href="#pSH" fill="#fdf845"/><use href="#pFJ" fill="#fdf845"/>
</g>
<use href="#pHI" fill="#fbdfc5" class="pv"/><use href="#pTW" fill="#fbdfc5" class="pv"/>
<use href="#ol"/>
<use href="#isl"/>
<use href="#dots"/>
</g>
<text class="t" x="52.5" y="20.1" textLength="131.5" lengthAdjust="spacingAndGlyphs">a.2017 Number of Tourist Receptions</text>
<text class="l" x="5.1" y="140.0">Number of Tourist</text><text class="l" x="5.1" y="146.0">Receptions</text><text class="l" x="5.1" y="152.3">(10,000 visitors)</text>
<rect x="5.1" y="156.6" width="9.5" height="3.8" fill="#fbdfc5" stroke="#b9b9b9" stroke-width=".2"/><text class="l" x="17.3" y="160.3">0 ~ 11,646</text>
<rect x="5.1" y="164.5" width="9.5" height="3.8" fill="#9ecb9c" stroke="#b9b9b9" stroke-width=".2"/><text class="l" x="17.3" y="168.2">11,647 ~ 32,718</text>
<rect x="5.1" y="172.3" width="9.5" height="3.8" fill="#fdf845" stroke="#b9b9b9" stroke-width=".2"/><text class="l" x="17.3" y="176.0">32,719 ~ 52,312</text>
<rect x="5.1" y="180.1" width="9.5" height="3.8" fill="#fa8729" stroke="#b9b9b9" stroke-width=".2"/><text class="l" x="17.3" y="183.8">52,313 ~ 64,000</text>
<rect x="5.1" y="187.7" width="9.5" height="3.8" fill="#2a8cc9" stroke="#b9b9b9" stroke-width=".2"/><text class="l" x="17.3" y="191.4">64,001 ~ 78,000</text>
<circle cx="10.0" cy="196.9" r="1.35" fill="#e3111b"/><text class="l" x="17.3" y="198.7">National Characteristic Town</text>
<text class="k" x="100.9" y="189.4" text-anchor="middle">0</text><text class="k" x="120.3" y="189.4">500 km</text><path d="M100.9 192.7 V197.4 H124.7 V192.7" fill="none" stroke="#666" stroke-width=".5"/>
<g transform="translate(231.8,134.0)"><rect x="0" y="0" width="33.7" height="60.0" fill="#fff"/><path d="M.3 .3 L10 .3 L9.5 3 L8 5 L8.4 7.8 L6.2 7.4 L.3 6.9Z" fill="#fdf845"/><path d="M10 .3 L22.8 .3 L22.3 2.3 L18.6 3.8 L15 5.3 L11.3 6.7 L9.4 8.3 L8.9 10.6 L8 10.4 L8.4 7.8 L8 5 L9.5 3Z" fill="#fdf845"/><ellipse cx="7.9" cy="12.8" rx="2.6" ry="2.1" fill="#fbdfc5" stroke="#999" stroke-width=".25"/><circle cx="2.0" cy="2.0" r="1" fill="#e3111b"/><circle cx="4.5" cy="1.5" r="1" fill="#e3111b"/><circle cx="3.2" cy="4.2" r="1" fill="#e3111b"/><circle cx="6.0" cy="3.0" r="1" fill="#e3111b"/><circle cx="1.8" cy="5.6" r="1" fill="#e3111b"/><circle cx="5.0" cy="5.8" r="1" fill="#e3111b"/><circle cx="8.2" cy="1.8" r="1" fill="#e3111b"/><circle cx="11.0" cy="2.2" r="1" fill="#e3111b"/><circle cx="13.5" cy="1.5" r="1" fill="#e3111b"/><circle cx="10.0" cy="4.6" r="1" fill="#e3111b"/><circle cx="12.5" cy="4.0" r="1" fill="#e3111b"/><circle cx="15.5" cy="3.0" r="1" fill="#e3111b"/><circle cx="17.5" cy="1.6" r="1" fill="#e3111b"/><circle cx="20.5" cy="1.4" r="1" fill="#e3111b"/><circle cx="21.8" cy="1.8" r="1" fill="#e3111b"/><circle cx="9.0" cy="6.6" r="1" fill="#e3111b"/><circle cx="8.7" cy="8.8" r="1" fill="#e3111b"/><circle cx="7.4" cy="10.9" r="1" fill="#e3111b"/><circle cx="9.0" cy="11.2" r="1" fill="#e3111b"/><circle cx="9.8" cy="12.2" r="1" fill="#e3111b"/><circle cx="14.0" cy="3.2" r="1" fill="#e3111b"/><circle cx="7.0" cy="6.2" r="1" fill="#e3111b"/><use href="#insc"/><rect x="0" y="0" width="33.7" height="60.0" fill="none" stroke="#555" stroke-width=".6"/></g>
<text class="n" x="249.2" y="191.1" text-anchor="middle">Nanhai Zhudao</text>
<g transform="translate(361.9,39.6) scale(1.0135) translate(-83.8,-39.3)">
<g clip-path="url(#cn)" class="pv">
<use href="#pXJ" fill="#8cbdab"/><use href="#pXZ" fill="#2a8cc9"/><use href="#pQH" fill="#2a8cc9"/><use href="#pNM" fill="#8cbdab"/><use href="#pGS" fill="#dee886"/><use href="#pNX" fill="#2a8cc9"/><use href="#pSC" fill="#fbcb4e"/><use href="#pYN" fill="#fa8729"/><use href="#pSN" fill="#fbcb4e"/><use href="#pHL" fill="#8cbdab"/><use href="#pJL" fill="#8cbdab"/><use href="#pLN" fill="#fbcb4e"/><use href="#pSX" fill="#fa8729"/><use href="#pHE" fill="#fa8729"/><use href="#pBJ" fill="#dee886"/><use href="#pTJ" fill="#8cbdab"/><use href="#pHA" fill="#fa8729"/><use href="#pSD" fill="#fa8729"/><use href="#pCQ" fill="#fbcb4e"/><use href="#pGZ" fill="#f7a37c"/><use href="#pHB" fill="#fbcb4e"/><use href="#pHN" fill="#fa8729"/><use href="#pGX" fill="#fa8729"/><use href="#pAH" fill="#fa8729"/><use href="#pJS" fill="#fa8729"/><use href="#pJX" fill="#fa8729"/><use href="#pGD" fill="#dee886"/><use href="#pZJ" fill="#fbcb4e"/><use href="#pSH" fill="#dee886"/><use href="#pFJ" fill="#dee886"/>
</g>
<use href="#pHI" fill="#2a8cc9" class="pv"/><use href="#pTW" fill="#2a8cc9" class="pv"/>
<use href="#ol"/>
<use href="#isl"/>
<use href="#dots"/>
</g>
<text class="t" x="329.5" y="20.1" textLength="134.0" lengthAdjust="spacingAndGlyphs">b.2019 Number of Tourist Receptions</text>
<text class="l" x="282.1" y="134.0">Number of Tourist</text><text class="l" x="282.1" y="140.0">Receptions</text><text class="l" x="282.1" y="146.0">(10,000 visitors)</text>
<rect x="282.1" y="150.3" width="9.5" height="3.8" fill="#2a8cc9" stroke="#b9b9b9" stroke-width=".2"/><text class="l" x="294.3" y="154.0">0 ~ 8,311</text>
<rect x="282.1" y="158.1" width="9.5" height="3.8" fill="#8cbdab" stroke="#b9b9b9" stroke-width=".2"/><text class="l" x="294.3" y="161.8">83,12 ~ 32,177</text>
<rect x="282.1" y="166.3" width="9.5" height="3.8" fill="#dee886" stroke="#b9b9b9" stroke-width=".2"/><text class="l" x="294.3" y="170.0">32,178 ~ 53,655</text>
<rect x="282.1" y="173.9" width="9.5" height="3.8" fill="#fbcb4e" stroke="#b9b9b9" stroke-width=".2"/><text class="l" x="294.3" y="177.6">53,656 ~ 75,415</text>
<rect x="282.1" y="181.7" width="9.5" height="3.8" fill="#fa8729" stroke="#b9b9b9" stroke-width=".2"/><text class="l" x="294.3" y="185.4">75,416 ~ 93,000</text>
<rect x="282.1" y="189.6" width="9.5" height="3.8" fill="#f7a37c" stroke="#b9b9b9" stroke-width=".2"/><text class="l" x="294.3" y="193.3">93,001 ~ 113,518</text>
<circle cx="287.0" cy="199.1" r="1.35" fill="#e3111b"/><text class="l" x="294.3" y="200.9">National Characteristic Town</text>
<text class="k" x="379.4" y="191.0" text-anchor="middle">0</text><text class="k" x="398.9" y="191.0">500 km</text><path d="M379.4 194.4 V198.7 H403.4 V194.4" fill="none" stroke="#666" stroke-width=".5"/>
<g transform="translate(511.9,135.3)"><rect x="0" y="0" width="34.0" height="60.5" fill="#fff"/><path d="M.3 .3 L10 .3 L9.5 3 L8 5 L8.4 7.8 L6.2 7.4 L.3 6.9Z" fill="#fa8729"/><path d="M10 .3 L22.8 .3 L22.3 2.3 L18.6 3.8 L15 5.3 L11.3 6.7 L9.4 8.3 L8.9 10.6 L8 10.4 L8.4 7.8 L8 5 L9.5 3Z" fill="#dee886"/><ellipse cx="7.9" cy="12.8" rx="2.6" ry="2.1" fill="#2a8cc9" stroke="#999" stroke-width=".25"/><circle cx="2.0" cy="2.0" r="1" fill="#e3111b"/><circle cx="4.5" cy="1.5" r="1" fill="#e3111b"/><circle cx="3.2" cy="4.2" r="1" fill="#e3111b"/><circle cx="6.0" cy="3.0" r="1" fill="#e3111b"/><circle cx="1.8" cy="5.6" r="1" fill="#e3111b"/><circle cx="5.0" cy="5.8" r="1" fill="#e3111b"/><circle cx="8.2" cy="1.8" r="1" fill="#e3111b"/><circle cx="11.0" cy="2.2" r="1" fill="#e3111b"/><circle cx="13.5" cy="1.5" r="1" fill="#e3111b"/><circle cx="10.0" cy="4.6" r="1" fill="#e3111b"/><circle cx="12.5" cy="4.0" r="1" fill="#e3111b"/><circle cx="15.5" cy="3.0" r="1" fill="#e3111b"/><circle cx="17.5" cy="1.6" r="1" fill="#e3111b"/><circle cx="20.5" cy="1.4" r="1" fill="#e3111b"/><circle cx="21.8" cy="1.8" r="1" fill="#e3111b"/><circle cx="9.0" cy="6.6" r="1" fill="#e3111b"/><circle cx="8.7" cy="8.8" r="1" fill="#e3111b"/><circle cx="7.4" cy="10.9" r="1" fill="#e3111b"/><circle cx="9.0" cy="11.2" r="1" fill="#e3111b"/><circle cx="9.8" cy="12.2" r="1" fill="#e3111b"/><circle cx="14.0" cy="3.2" r="1" fill="#e3111b"/><circle cx="7.0" cy="6.2" r="1" fill="#e3111b"/><use href="#insc"/><rect x="0" y="0" width="34.0" height="60.5" fill="none" stroke="#555" stroke-width=".6"/></g>
<text class="n" x="529.4" y="192.9" text-anchor="middle">Nanhai Zhudao</text>
<g transform="translate(80.55,258.3) scale(1.0055) translate(-83.8,-39.3)">
<g clip-path="url(#cn)" class="pv">
<use href="#pXJ" fill="#9ecb9c"/><use href="#pXZ" fill="#2a8cc9"/><use href="#pQH" fill="#2a8cc9"/><use href="#pNM" fill="#9ecb9c"/><use href="#pGS" fill="#2a8cc9"/><use href="#pNX" fill="#2a8cc9"/><use href="#pSC" fill="#f7a37c"/><use href="#pYN" fill="#fa8729"/><use href="#pSN" fill="#fdf845"/><use href="#pHL" fill="#9ecb9c"/><use href="#pJL" fill="#9ecb9c"/><use href="#pLN" fill="#fdf845"/><use href="#pSX" fill="#fdf845"/><use href="#pHE" fill="#fa8729"/><use href="#pBJ" fill="#fdf845"/><use href="#pTJ" fill="#9ecb9c"/><use href="#pHA" fill="#fa8729"/><use href="#pSD" fill="#f7a37c"/><use href="#pCQ" fill="#9ecb9c"/><use href="#pGZ" fill="#fa8729"/><use href="#pHB" fill="#fdf845"/><use href="#pHN" fill="#fa8729"/><use href="#pGX" fill="#fdf845"/><use href="#pAH" fill="#fa8729"/><use href="#pJS" fill="#f7a37c"/><use href="#pJX" fill="#fa8729"/><use href="#pGD" fill="#f7a37c"/><use href="#pZJ" fill="#f7a37c"/><use href="#pSH" fill="#fdf845"/><use href="#pFJ" fill="#fdf845"/>
</g>
<use href="#pHI" fill="#2a8cc9" class="pv"/><use href="#pTW" fill="#2a8cc9" class="pv"/>
<use href="#ol"/>
<use href="#isl"/>
<use href="#dots"/>
</g>
<text class="t" x="74.5" y="238.2" textLength="107.7" lengthAdjust="spacingAndGlyphs">c.2017 Total Tourism Revenue</text>
<text class="l" x="5.1" y="358.4">Total Tourism</text><text class="l" x="5.1" y="364.4">Revenue</text><text class="l" x="5.1" y="371.2">(100 million yuan)</text>
<rect x="5.1" y="374.7" width="9.5" height="3.8" fill="#2a8cc9" stroke="#b9b9b9" stroke-width=".2"/><text class="l" x="17.3" y="378.4">0 ~ 1,580</text>
<rect x="5.1" y="382.9" width="9.5" height="3.8" fill="#9ecb9c" stroke="#b9b9b9" stroke-width=".2"/><text class="l" x="17.3" y="386.6">1,581 ~ 3,545</text>
<rect x="5.1" y="390.6" width="9.5" height="3.8" fill="#fdf845" stroke="#b9b9b9" stroke-width=".2"/><text class="l" x="17.3" y="394.3">3,546 ~ 5,580</text>
<rect x="5.1" y="398.4" width="9.5" height="3.8" fill="#fa8729" stroke="#b9b9b9" stroke-width=".2"/><text class="l" x="17.3" y="402.1">5,581 ~ 7,173</text>
<rect x="5.1" y="406.0" width="9.5" height="3.8" fill="#f7a37c" stroke="#b9b9b9" stroke-width=".2"/><text class="l" x="17.3" y="409.7">7,174 ~ 12,063</text>
<circle cx="10.0" cy="415.2" r="1.35" fill="#e3111b"/><text class="l" x="17.3" y="417.0">National Characteristic Town</text>
<text class="k" x="98.0" y="407.7" text-anchor="middle">0</text><text class="k" x="117.4" y="407.7">500 km</text><path d="M98.0 411.1 V415.5 H121.8 V411.1" fill="none" stroke="#666" stroke-width=".5"/>
<g transform="translate(229.3,353.0)"><rect x="0" y="0" width="33.6" height="60.4" fill="#fff"/><path d="M.3 .3 L10 .3 L9.5 3 L8 5 L8.4 7.8 L6.2 7.4 L.3 6.9Z" fill="#fdf845"/><path d="M10 .3 L22.8 .3 L22.3 2.3 L18.6 3.8 L15 5.3 L11.3 6.7 L9.4 8.3 L8.9 10.6 L8 10.4 L8.4 7.8 L8 5 L9.5 3Z" fill="#f7a37c"/><ellipse cx="7.9" cy="12.8" rx="2.6" ry="2.1" fill="#2a8cc9" stroke="#999" stroke-width=".25"/><circle cx="2.0" cy="2.0" r="1" fill="#e3111b"/><circle cx="4.5" cy="1.5" r="1" fill="#e3111b"/><circle cx="3.2" cy="4.2" r="1" fill="#e3111b"/><circle cx="6.0" cy="3.0" r="1" fill="#e3111b"/><circle cx="1.8" cy="5.6" r="1" fill="#e3111b"/><circle cx="5.0" cy="5.8" r="1" fill="#e3111b"/><circle cx="8.2" cy="1.8" r="1" fill="#e3111b"/><circle cx="11.0" cy="2.2" r="1" fill="#e3111b"/><circle cx="13.5" cy="1.5" r="1" fill="#e3111b"/><circle cx="10.0" cy="4.6" r="1" fill="#e3111b"/><circle cx="12.5" cy="4.0" r="1" fill="#e3111b"/><circle cx="15.5" cy="3.0" r="1" fill="#e3111b"/><circle cx="17.5" cy="1.6" r="1" fill="#e3111b"/><circle cx="20.5" cy="1.4" r="1" fill="#e3111b"/><circle cx="21.8" cy="1.8" r="1" fill="#e3111b"/><circle cx="9.0" cy="6.6" r="1" fill="#e3111b"/><circle cx="8.7" cy="8.8" r="1" fill="#e3111b"/><circle cx="7.4" cy="10.9" r="1" fill="#e3111b"/><circle cx="9.0" cy="11.2" r="1" fill="#e3111b"/><circle cx="9.8" cy="12.2" r="1" fill="#e3111b"/><circle cx="14.0" cy="3.2" r="1" fill="#e3111b"/><circle cx="7.0" cy="6.2" r="1" fill="#e3111b"/><use href="#insc"/><rect x="0" y="0" width="33.6" height="60.4" fill="none" stroke="#555" stroke-width=".6"/></g>
<text class="n" x="246.6" y="410.9" text-anchor="middle">Nanhai Zhudao</text>
<g transform="translate(359.7,258.5) scale(1.0125) translate(-83.8,-39.3)">
<g clip-path="url(#cn)" class="pv">
<use href="#pXJ" fill="#8cbdab"/><use href="#pXZ" fill="#2a8cc9"/><use href="#pQH" fill="#2a8cc9"/><use href="#pNM" fill="#dee886"/><use href="#pGS" fill="#8cbdab"/><use href="#pNX" fill="#2a8cc9"/><use href="#pSC" fill="#fa8729"/><use href="#pYN" fill="#fa8729"/><use href="#pSN" fill="#fbcb4e"/><use href="#pHL" fill="#8cbdab"/><use href="#pJL" fill="#dee886"/><use href="#pLN" fill="#dee886"/><use href="#pSX" fill="#fbcb4e"/><use href="#pHE" fill="#fa8729"/><use href="#pBJ" fill="#dee886"/><use href="#pTJ" fill="#dee886"/><use href="#pHA" fill="#fa8729"/><use href="#pSD" fill="#fa8729"/><use href="#pCQ" fill="#dee886"/><use href="#pGZ" fill="#fa8729"/><use href="#pHB" fill="#fbcb4e"/><use href="#pHN" fill="#fa8729"/><use href="#pGX" fill="#fa8729"/><use href="#pAH" fill="#fbcb4e"/><use href="#pJS" fill="#f7a37c"/><use href="#pJX" fill="#fa8729"/><use href="#pGD" fill="#f7a37c"/><use href="#pZJ" fill="#fa8729"/><use href="#pSH" fill="#dee886"/><use href="#pFJ" fill="#fbcb4e"/>
</g>
<use href="#pHI" fill="#2a8cc9" class="pv"/><use href="#pTW" fill="#2a8cc9" class="pv"/>
<use href="#ol"/>
<use href="#isl"/>
<use href="#dots"/>
</g>
<text class="t" x="352.5" y="238.2" textLength="109.0" lengthAdjust="spacingAndGlyphs">d.2019 Total Tourism Revenue</text>
<text class="l" x="281.9" y="351.7">Total Tourism</text><text class="l" x="281.9" y="357.9">Revenue</text><text class="l" x="281.9" y="363.9">(100 million yuan)</text>
<rect x="281.9" y="368.4" width="9.5" height="3.8" fill="#2a8cc9" stroke="#b9b9b9" stroke-width=".2"/><text class="l" x="294.1" y="372.1">0 ~ 1,058</text>
<rect x="281.9" y="376.2" width="9.5" height="3.8" fill="#8cbdab" stroke="#b9b9b9" stroke-width=".2"/><text class="l" x="294.1" y="379.9">1,059 ~ 3,633</text>
<rect x="281.9" y="384.2" width="9.5" height="3.8" fill="#dee886" stroke="#b9b9b9" stroke-width=".2"/><text class="l" x="294.1" y="387.9">3,634 ~ 6,225</text>
<rect x="281.9" y="392.0" width="9.5" height="3.8" fill="#fbcb4e" stroke="#b9b9b9" stroke-width=".2"/><text class="l" x="294.1" y="395.7">6,226 ~ 8,526</text>
<rect x="281.9" y="399.8" width="9.5" height="3.8" fill="#fa8729" stroke="#b9b9b9" stroke-width=".2"/><text class="l" x="294.1" y="403.5">8,527 ~ 12,322</text>
<rect x="281.9" y="407.8" width="9.5" height="3.8" fill="#f7a37c" stroke="#b9b9b9" stroke-width=".2"/><text class="l" x="294.1" y="411.5">12,323 ~ 15,111</text>
<circle cx="286.8" cy="416.3" r="1.35" fill="#e3111b"/><text class="l" x="294.1" y="418.1">National Characteristic Town</text>
<text class="k" x="376.9" y="408.4" text-anchor="middle">0</text><text class="k" x="396.5" y="408.4">500 km</text><path d="M376.9 411.9 V416.3 H400.9 V411.9" fill="none" stroke="#666" stroke-width=".5"/>
<g transform="translate(509.3,353.6)"><rect x="0" y="0" width="33.7" height="60.7" fill="#fff"/><path d="M.3 .3 L10 .3 L9.5 3 L8 5 L8.4 7.8 L6.2 7.4 L.3 6.9Z" fill="#fa8729"/><path d="M10 .3 L22.8 .3 L22.3 2.3 L18.6 3.8 L15 5.3 L11.3 6.7 L9.4 8.3 L8.9 10.6 L8 10.4 L8.4 7.8 L8 5 L9.5 3Z" fill="#f7a37c"/><ellipse cx="7.9" cy="12.8" rx="2.6" ry="2.1" fill="#2a8cc9" stroke="#999" stroke-width=".25"/><circle cx="2.0" cy="2.0" r="1" fill="#e3111b"/><circle cx="4.5" cy="1.5" r="1" fill="#e3111b"/><circle cx="3.2" cy="4.2" r="1" fill="#e3111b"/><circle cx="6.0" cy="3.0" r="1" fill="#e3111b"/><circle cx="1.8" cy="5.6" r="1" fill="#e3111b"/><circle cx="5.0" cy="5.8" r="1" fill="#e3111b"/><circle cx="8.2" cy="1.8" r="1" fill="#e3111b"/><circle cx="11.0" cy="2.2" r="1" fill="#e3111b"/><circle cx="13.5" cy="1.5" r="1" fill="#e3111b"/><circle cx="10.0" cy="4.6" r="1" fill="#e3111b"/><circle cx="12.5" cy="4.0" r="1" fill="#e3111b"/><circle cx="15.5" cy="3.0" r="1" fill="#e3111b"/><circle cx="17.5" cy="1.6" r="1" fill="#e3111b"/><circle cx="20.5" cy="1.4" r="1" fill="#e3111b"/><circle cx="21.8" cy="1.8" r="1" fill="#e3111b"/><circle cx="9.0" cy="6.6" r="1" fill="#e3111b"/><circle cx="8.7" cy="8.8" r="1" fill="#e3111b"/><circle cx="7.4" cy="10.9" r="1" fill="#e3111b"/><circle cx="9.0" cy="11.2" r="1" fill="#e3111b"/><circle cx="9.8" cy="12.2" r="1" fill="#e3111b"/><circle cx="14.0" cy="3.2" r="1" fill="#e3111b"/><circle cx="7.0" cy="6.2" r="1" fill="#e3111b"/><use href="#insc"/><rect x="0" y="0" width="33.7" height="60.7" fill="none" stroke="#555" stroke-width=".6"/></g>
<text class="n" x="526.6" y="412.3" text-anchor="middle">Nanhai Zhudao</text>
</svg>
</body></html>
